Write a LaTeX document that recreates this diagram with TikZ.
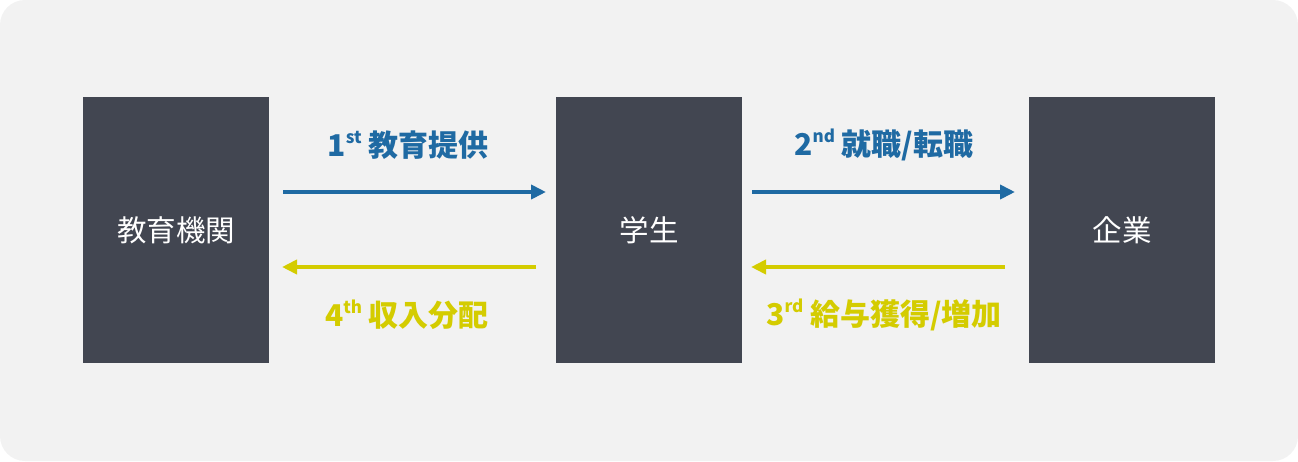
\documentclass[tikz,border=0pt]{standalone}
\usepackage{fontspec}
\usetikzlibrary{arrows.meta}
\newfontfamily\cjk{Noto Sans CJK JP}
\definecolor{bgc}{HTML}{F2F2F2}
\definecolor{boxc}{HTML}{424651}
\definecolor{bluec}{HTML}{1F6AA3}
\definecolor{yelc}{HTML}{D4CC00}
\tikzset{
  entity/.style={fill=boxc, draw=none, minimum width=186pt, minimum height=266pt, inner sep=0pt, text=white, font=\cjk\fontsize{29.5}{31}\selectfont},
  flow/.style={line width=4.5pt, -{Triangle[length=15pt,width=14pt]}},
  lbl/.style={font=\cjk\bfseries\fontsize{30}{32}\selectfont, inner sep=0pt},
}
\newcommand{\ordsup}[1]{\raisebox{0.42em}{\fontsize{17}{18}\selectfont #1}}
\begin{document}
\begin{tikzpicture}[x=1pt,y=-1pt]
\useasboundingbox (0,0) rectangle (1298,461);
\fill[bgc, rounded corners=25pt] (0,0) rectangle (1298,461);
\node[entity] (edu) at (176,230) {教育機関};
\node[entity] (stu) at (649,230) {学生};
\node[entity] (com) at (1122,230) {企業};
\coordinate (a1s) at (283,192); \coordinate (a1e) at (546,192);
\coordinate (a4s) at (536,267); \coordinate (a4e) at (282,267);
\coordinate (a2s) at (752,192); \coordinate (a2e) at (1015,192);
\coordinate (a3s) at (1005,267); \coordinate (a3e) at (751,267);
\draw[flow, bluec] (a1s) -- (a1e);
\draw[flow, yelc] (a4s) -- (a4e);
\draw[flow, bluec] (a2s) -- (a2e);
\draw[flow, yelc] (a3s) -- (a3e);
\node[lbl, text=bluec] (l1) at (408,145) {1\ordsup{st} 教育提供};
\node[lbl, text=yelc] (l4) at (407,315) {4\ordsup{th} 収入分配};
\node[lbl, text=bluec] (l2) at (884,145) {2\ordsup{nd} 就職/転職};
\node[lbl, text=yelc] (l3) at (884,315) {3\ordsup{rd} 給与獲得/増加};
\end{tikzpicture}
\end{document}
